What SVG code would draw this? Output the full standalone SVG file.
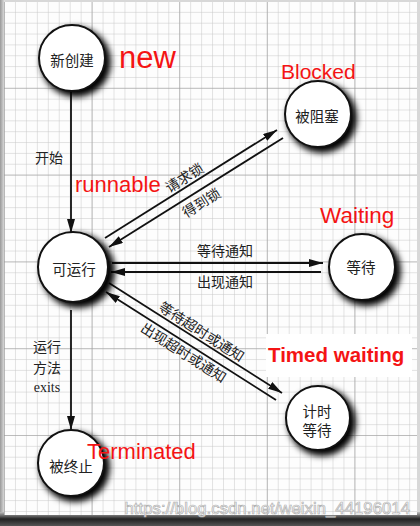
<svg xmlns="http://www.w3.org/2000/svg" width="420" height="526" viewBox="0 0 420 526">
<defs>
  <pattern id="minor" x="4" y="1" width="10.95" height="10.85" patternUnits="userSpaceOnUse">
    <path d="M0 0 V10.85 M0 0 H10.95" fill="none" stroke="#c8c8c8" stroke-width="1"/>
  </pattern>
  <pattern id="major" x="4" y="1" width="87.6" height="86.8" patternUnits="userSpaceOnUse">
    <path d="M0 0 V86.8 M0 0 H87.6" fill="none" stroke="#959595" stroke-width="1.1"/>
  </pattern>
  <linearGradient id="bottomShade" x1="0" y1="0" x2="0" y2="1">
    <stop offset="0" stop-color="#bdbdbd"/>
    <stop offset="0.5" stop-color="#222"/>
    <stop offset="1" stop-color="#555"/>
  </linearGradient>
  <linearGradient id="leftShade" x1="0" y1="0" x2="1" y2="0">
    <stop offset="0" stop-color="#999"/>
    <stop offset="1" stop-color="#e6e6e6"/>
  </linearGradient>
  <filter id="shadow" x="-40%" y="-40%" width="180%" height="180%">
    <feGaussianBlur stdDeviation="3"/>
  </filter>
  <marker id="arrow" viewBox="0 0 14 8" refX="14" refY="4" markerWidth="14" markerHeight="8" markerUnits="userSpaceOnUse" orient="auto">
    <path d="M0 0 L14 4 L0 8 Z" fill="#111"/>
  </marker>
  <style>
    .node circle.face { fill: #fff; stroke: #111; stroke-width: 2; }
    .node circle.shade { fill: #000; filter: url(#shadow); }
    .nt { font-family: "Noto Sans CJK SC", "Noto Sans CJK JP", sans-serif; font-size: 14.5px; fill: #222; text-anchor: middle; dominant-baseline: central; }
    .edges line { stroke: #111; stroke-width: 1.8; }
    .el { font-family: "Noto Sans CJK SC", "Noto Sans CJK JP", sans-serif; font-size: 14px; fill: #222; text-anchor: middle; dominant-baseline: central; }
    .lat { font-family: "Liberation Serif", serif; font-size: 14px; fill: #222; text-anchor: middle; dominant-baseline: central; }
    .red { font-family: "Liberation Sans", Arial, sans-serif; fill: #f41414; }
  </style>
</defs>

<!-- paper -->
<rect x="0" y="0" width="420" height="526" fill="#d8d8d8"/>
<rect x="0" y="0" width="5" height="526" fill="url(#leftShade)"/>
<rect x="0" y="512" width="420" height="14" fill="url(#bottomShade)"/>
<rect x="4" y="2" width="413" height="513" fill="#fdfdfd"/>
<rect x="4" y="2" width="413" height="513" fill="url(#minor)"/>
<rect x="4" y="2" width="413" height="513" fill="url(#major)"/>

<!-- white label background -->
<rect x="266" y="334" width="146" height="43" fill="#fff"/>

<!-- connectors -->
<g id="edges" class="edges">
  <line x1="71" y1="92" x2="71" y2="233" marker-end="url(#arrow)"/>
  <line x1="71" y1="310" x2="71" y2="430" marker-end="url(#arrow)"/>
  <line x1="105" y1="238" x2="277" y2="130" marker-end="url(#arrow)"/>
  <line x1="283" y1="138" x2="109" y2="247" marker-end="url(#arrow)"/>
  <line x1="112" y1="263" x2="323" y2="263" marker-end="url(#arrow)"/>
  <line x1="321" y1="272" x2="111" y2="272" marker-end="url(#arrow)"/>
  <line x1="109" y1="283" x2="282" y2="393" marker-end="url(#arrow)"/>
  <line x1="276" y1="400" x2="106" y2="292" marker-end="url(#arrow)"/>
</g>

<!-- connector labels -->
<g id="edge-labels">
  <text class="el" x="49" y="157">开始</text>
  <text class="el" x="47" y="346">运行</text>
  <text class="el" x="47" y="367">方法</text>
  <text class="lat" x="47" y="387">exits</text>
  <text class="el" transform="translate(184,177) rotate(-32)">请求锁</text>
  <text class="el" transform="translate(201,202) rotate(-32)">得到锁</text>
  <text class="el" x="225" y="250">等待通知</text>
  <text class="el" x="225" y="281">出现通知</text>
  <text class="el" transform="translate(202,331) rotate(32.4)">等待超时或通知</text>
  <text class="el" transform="translate(184,352) rotate(32.4)">出现超时或通知</text>
</g>

<!-- nodes -->
<g id="node-new" class="node">
  <circle class="shade" cx="76" cy="62" r="35"/>
  <circle class="face" cx="72" cy="58" r="33"/>
  <text class="nt" x="72" y="59">新创建</text>
</g>
<g id="node-blocked" class="node">
  <circle class="shade" cx="322" cy="118" r="35"/>
  <circle class="face" cx="318" cy="114" r="33"/>
  <text class="nt" x="317" y="115">被阻塞</text>
</g>
<g id="node-runnable" class="node">
  <circle class="shade" cx="78" cy="271" r="37"/>
  <circle class="face" cx="73" cy="267" r="35"/>
  <text class="nt" x="74" y="268">可运行</text>
</g>
<g id="node-waiting" class="node">
  <circle class="shade" cx="366" cy="271" r="35"/>
  <circle class="face" cx="362" cy="267" r="33"/>
  <text class="nt" x="361" y="266">等待</text>
</g>
<g id="node-timed" class="node">
  <circle class="shade" cx="322" cy="422" r="34"/>
  <circle class="face" cx="318" cy="418" r="32"/>
  <text class="nt" x="317" y="410">计时</text>
  <text class="nt" x="317" y="429">等待</text>
</g>
<g id="node-terminated" class="node">
  <circle class="shade" cx="75" cy="467" r="35"/>
  <circle class="face" cx="71" cy="463" r="33"/>
  <text class="nt" x="71" y="465">被终止</text>
</g>

<!-- red annotations -->
<g id="annotations">
  <text class="red" x="119" y="68" font-size="31">new</text>
  <text class="red" x="281" y="79" font-size="21">Blocked</text>
  <text class="red" x="75" y="192" font-size="22">runnable</text>
  <text class="red" x="320" y="223" font-size="22.5">Waiting</text>
  <text class="red" x="268" y="362" font-size="20.5" font-weight="bold" fill="#ee1111">Timed waiting</text>
  <text class="red" x="87" y="459" font-size="22">Terminated</text>
</g>

<!-- watermark -->
<text x="410" y="514" font-family="Liberation Sans, Arial, sans-serif" font-size="16.8" text-anchor="end" fill="#ffffff" fill-opacity="0.85" stroke="#b0b0b0" stroke-width="0.7">https://blog.csdn.net/weixin_44196014</text>
</svg>
